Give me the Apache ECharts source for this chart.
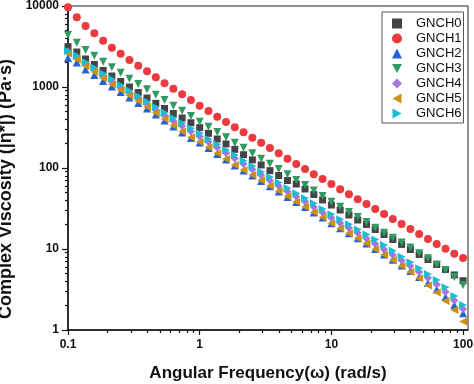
<!DOCTYPE html>
<html><head><meta charset="utf-8">
<script src="https://cdn.jsdelivr.net/npm/echarts@6/dist/echarts.min.js"></script>
<style>html,body{margin:0;padding:0;background:#fff}#c{width:474px;height:384px}</style>
</head><body><div id="c"></div><script>
// Angular frequency (rad/s)
const freq = [0.1, 0.1166, 0.1359, 0.1585, 0.1848, 0.2154, 0.2512, 0.2929, 0.3415, 0.3981, 0.4642, 0.5412, 0.6310, 0.7356, 0.8577,
  1, 1.166, 1.359, 1.585, 1.848, 2.154, 2.512, 2.929, 3.415, 3.981, 4.642, 5.412, 6.310, 7.356, 8.577,
  10, 11.66, 13.59, 15.85, 18.48, 21.54, 25.12, 29.29, 34.15, 39.81, 46.42, 54.12, 63.10, 73.56, 85.77, 100];
// Complex viscosity (Pa·s)
const gnch0 = [3146, 2704, 2218, 1897, 1600, 1367, 1169, 1000, 855, 731, 629, 543, 471, 414, 362, 315, 268, 228, 198, 170, 146, 126, 109, 92.7, 80.8, 70.1, 63.4, 55.1, 47.1, 40.3, 34.9, 30.3, 26.3, 22.8, 20.1, 17.4, 15.1, 13.1, 11.4, 9.86, 8.55, 7.42, 6.44, 5.58, 4.78, 4.06];
const gnch1 = [9640, 7250, 5665, 4603, 3730, 3055, 2577, 2154, 1833, 1563, 1318, 1111, 953, 813, 691, 588, 506, 430, 370, 318, 276, 237, 205, 177, 152, 130, 112, 97.2, 83.6, 73.1, 63.5, 54.6, 47.3, 41.1, 35.9, 31.2, 27.0, 23.5, 20.4, 17.7, 15.3, 13.3, 11.5, 10.1, 8.75, 7.74];
const gnch2 = [2280, 2005, 1644, 1406, 1186, 1014, 867, 742, 634, 543, 457, 386, 325, 274, 234, 206, 177, 149, 127, 107, 93.1, 80.8, 69.1, 59.4, 51.3, 43.9, 38.0, 33.0, 28.2, 24.5, 20.8, 18.0, 15.6, 13.6, 11.7, 10.0, 8.55, 7.36, 6.25, 5.35, 4.51, 3.80, 3.16, 2.55, 2.04, 1.61];
const gnch3 = [4385, 3524, 2864, 2432, 2051, 1750, 1503, 1266, 1089, 937, 804, 691, 588, 508, 439, 373, 324, 278, 239, 205, 178, 152, 130, 113, 97.2, 83.6, 71.1, 61.7, 52.7, 45.1, 38.4, 33.3, 28.6, 24.8, 21.5, 18.3, 15.9, 13.8, 12.0, 10.4, 8.85, 7.68, 6.44, 5.51, 4.51, 3.59];
const gnch4 = [2742, 2345, 1923, 1622, 1367, 1169, 986, 843, 721, 617, 520, 445, 380, 330, 282, 245, 209, 179, 153, 131, 112, 95.8, 82.0, 70.1, 59.9, 51.3, 44.5, 38.6, 33.0, 28.2, 24.1, 20.9, 18.2, 15.8, 13.5, 11.5, 9.86, 8.43, 7.21, 6.17, 5.20, 4.39, 3.65, 2.94, 2.31, 1.82];
const gnch5 = [2594, 2187, 1816, 1531, 1280, 1074, 918, 785, 672, 566, 478, 403, 335, 282, 239, 211, 180, 152, 129, 109, 94.4, 82.0, 70.5, 60.4, 52.0, 44.7, 38.4, 33.3, 28.4, 24.6, 20.8, 18.0, 15.6, 13.6, 11.7, 9.92, 8.51, 7.32, 6.17, 5.20, 4.35, 3.54, 2.90, 2.28, 1.77, 1.27];
const gnch6 = [2782, 2449, 2036, 1741, 1468, 1256, 1059, 906, 774, 662, 566, 484, 414, 359, 309, 268, 228, 196, 167, 145, 123, 106, 90.0, 77.4, 66.2, 56.6, 48.7, 42.3, 36.7, 31.2, 26.8, 23.3, 20.2, 17.4, 15.1, 13.1, 11.2, 9.53, 8.04, 6.85, 5.78, 4.91, 4.14, 3.37, 2.63, 2.04];
const seriesNames = ['GNCH0', 'GNCH1', 'GNCH2', 'GNCH3', 'GNCH4', 'GNCH5', 'GNCH6'];
// Axis ticks
const xMajorTicks = [0.1, 1, 10, 100];
const xMinorTicks = [0.2, 0.3, 0.4, 0.5, 0.6, 0.7, 0.8, 0.9, 2, 3, 4, 5, 6, 7, 8, 9, 20, 30, 40, 50, 60, 70, 80, 90];
const yMajorTicks = [1, 10, 100, 1000, 10000];
const yMinorTicks = [2, 3, 4, 5, 6, 7, 8, 9, 20, 30, 40, 50, 60, 70, 80, 90, 200, 300, 400, 500, 600, 700, 800, 900, 2000, 3000, 4000, 5000, 6000, 7000, 8000, 9000];

const allData = [gnch0, gnch1, gnch2, gnch3, gnch4, gnch5, gnch6];
const colors = ['#444444', '#ec3a3f', '#2762d4', '#2f9a62', '#a476e0', '#cc9114', '#1bbdd0'];
const symbols = ['rect', 'circle', 'triangle', 'path://M0,0L10,0L5,9Z', 'diamond', 'path://M9,0L9,10L0,5Z', 'path://M0,0L0,10L9,5Z'];
const sizes = [7, 8, 8, 8, 8, 8, 8];

const font = 'Liberation Sans, Arial, sans-serif';
const chart = echarts.init(document.getElementById('c'), null, {renderer: 'canvas'});

const xMin = 0.1, xMax = 109, yMin = 1, yMax = 10000;
const gridBox = {left: 68, right: 6, top: 6, bottom: 54, outerBoundsMode: 'none', containLabel: false};
function xAx(major) {
  return {
    gridIndex: major ? 0 : 1,
    type: 'log', logBase: 10, min: xMin, max: xMax, position: 'bottom',
    name: major ? 'Angular Frequency(ω) (rad/s)' : '',
    nameLocation: 'middle', nameGap: 35,
    nameTextStyle: {fontFamily: font, fontWeight: 'bold', fontSize: 17, color: '#111'},
    axisLine: {show: major, onZero: false, lineStyle: {color: '#111', width: 1.5}},
    axisTick: {show: true, inside: false, length: major ? 5 : 3, lineStyle: {color: '#111', width: 1.2},
      customValues: major ? xMajorTicks : xMinorTicks},
    axisLabel: {show: major, customValues: xMajorTicks, margin: 9, fontFamily: font, fontWeight: 'bold', fontSize: 12, color: '#111',
      formatter: v => String(v)},
    splitLine: {show: false}, minorTick: {show: false}
  };
}
function yAx(major) {
  return {
    gridIndex: major ? 0 : 1,
    type: 'log', logBase: 10, min: yMin, max: yMax, position: 'left',
    name: major ? 'Complex Viscosity (|η*|) (Pa·s)' : '',
    nameLocation: 'middle', nameGap: 46,
    nameTextStyle: {fontFamily: font, fontWeight: 'bold', fontSize: 18, color: '#111', padding: [0, 42, 0, 0]},
    axisLine: {show: major, onZero: false, lineStyle: {color: '#111', width: 1.5}},
    axisTick: {show: true, inside: false, length: major ? 6 : 3, lineStyle: {color: '#111', width: 1.2},
      customValues: major ? yMajorTicks : yMinorTicks},
    axisLabel: {show: major, customValues: yMajorTicks, margin: 9, fontFamily: font, fontWeight: 'bold', fontSize: 12, color: '#111',
      formatter: v => String(v)},
    splitLine: {show: false}, minorTick: {show: false}
  };
}

chart.setOption({
  animation: false,
  backgroundColor: '#fff',
  grid: [
    Object.assign({show: true, borderColor: '#222', borderWidth: 1}, gridBox),
    Object.assign({show: false}, gridBox)
  ],
  legend: {
    orient: 'vertical', left: 382, top: 12, data: seriesNames,
    borderColor: '#555', borderWidth: 1, padding: [5, 2, 3, 10],
    itemWidth: 10, itemHeight: 10, itemGap: 2,
    textStyle: {fontFamily: font, fontSize: 13, color: '#111', padding: [0, 0, 0, 9]}
  },
  xAxis: [xAx(true), xAx(false)],
  yAxis: [yAx(true), yAx(false)],
  series: allData.map((d, i) => ({
    name: seriesNames[i], type: 'scatter', xAxisIndex: 0, yAxisIndex: 0,
    symbol: symbols[i], symbolSize: sizes[i],
    itemStyle: {color: colors[i], opacity: 1},
    data: d.map((v, k) => [freq[k], v]),
    clip: false
  }))
});
</script></body></html>
